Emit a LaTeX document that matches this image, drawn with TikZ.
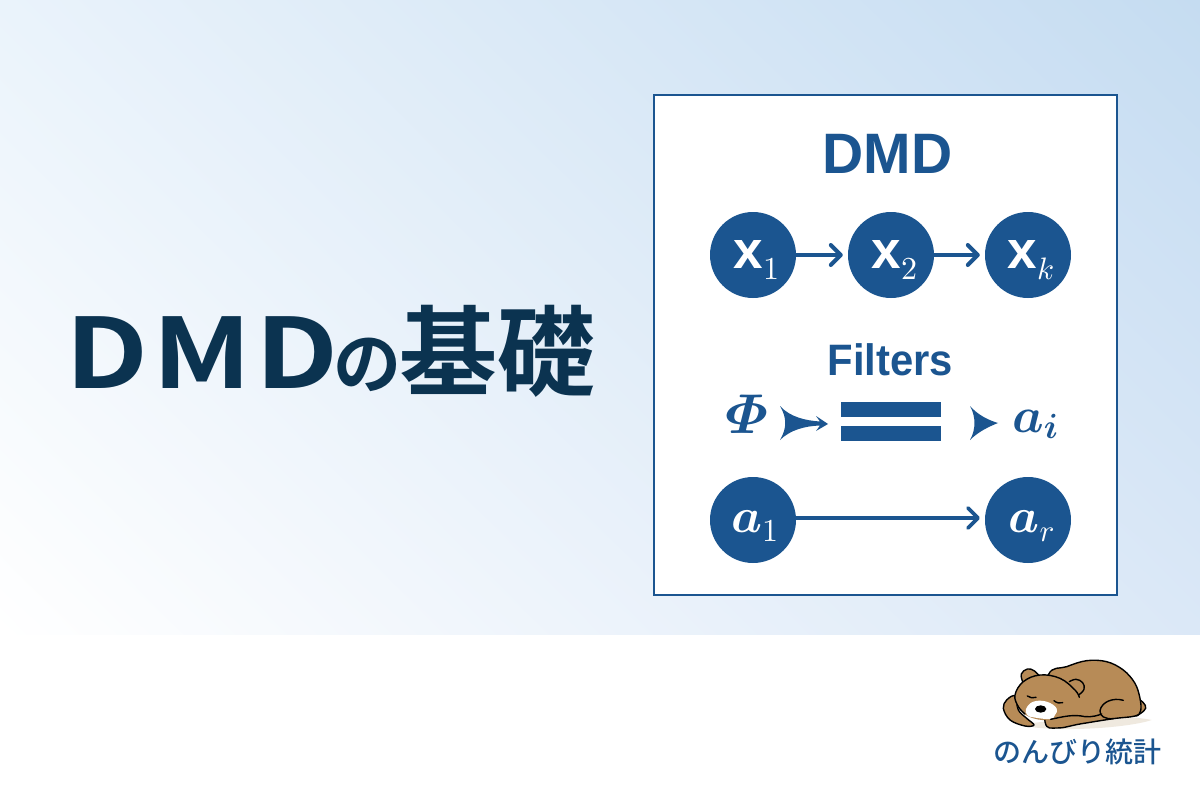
\documentclass[tikz,border=0pt]{standalone}
\usepackage[no-math]{fontspec}
\setmainfont{Liberation Sans}
\newfontfamily\jpbold{Noto Sans CJK JP Bold}
\newfontfamily\jpmed{Noto Sans CJK JP Medium}
\newfontfamily\latwide[FakeStretch=1.2]{Noto Sans CJK JP Bold}
\newfontfamily\lbold{Liberation Sans Bold}
\newfontfamily\lfilt[FakeStretch=0.95]{Liberation Sans Bold}
\usetikzlibrary{arrows.meta,shadings}
\font\mibig=cmmib10 at 56pt
\font\mia=cmmib10 at 50pt
\font\misub=cmmib10 at 35pt
\font\cmia=cmmib10 at 49pt
\font\cmisub=cmmi10 at 31pt
\font\crsub=cmr10 at 32pt
\definecolor{navy}{HTML}{1B5590}
\definecolor{titlecol}{HTML}{0B3350}
\definecolor{bearfill}{HTML}{B78B57}
\definecolor{bgll}{HTML}{FFFFFF}
\definecolor{bgul}{HTML}{EAF3FB}
\definecolor{bgur}{HTML}{C5DCF1}
\definecolor{bglr}{HTML}{DBE8F7}
\definecolor{shadowc}{HTML}{EFE9DF}
\tikzset{
  x=1pt,y=-1pt,
  circ/.style={circle,fill=navy,minimum size=86pt,inner sep=0pt,text=white},
  flow/.style={draw=navy,line width=4pt,shorten >=5pt,-{Straight Barb[length=10pt,width=20pt,line width=4pt,round]}},
  flowthin/.style={draw=navy,line width=3.6pt,shorten >=5pt,-{Straight Barb[length=10pt,width=20pt,line width=3.6pt,round]}},
  bearline/.style={draw=black,line width=1.4pt,line cap=round,line join=round},
  head/.style={text=navy,inner sep=0pt},
}
\newcommand{\vx}[2]{\hspace*{#1}\raisebox{-13pt}[0pt][0pt]{{\lbold\fontsize{53}{53}\selectfont x}\raisebox{-11pt}{#2}}}
\newcommand{\va}[2]{\hspace*{#1}\raisebox{-12pt}[0pt][0pt]{{\cmia a}\raisebox{-9pt}{#2}}}
\begin{document}
\begin{tikzpicture}
\useasboundingbox (0,0) rectangle (1200,800);
\fill[white] (0,0) rectangle (1200,800);
\shade[shading=bilinear interpolation,lower left=bgll,upper left=bgul,upper right=bgur,lower right=bglr] (0,0) rectangle (1200,634);
\node[inner sep=0pt,anchor=base west,text=titlecol] (title) at (65,388) {\latwide\fontsize{97}{97}\selectfont D\hspace{4pt}M\hspace{4pt}D\hspace{-5pt}\jpbold\fontsize{68}{68}\selectfont の\hspace{-2pt}\fontsize{98}{98}\selectfont 基礎};
\draw[navy,line width=2.6pt,fill=white] (654,95) rectangle (1117,595);
\node[head] (dmd) at (887.5,153.5) {\lbold\fontsize{57}{57}\selectfont DMD};
\node[circ] (x1) at (753,255) {\vx{7pt}{\crsub 1}};
\node[circ] (x2) at (891,255) {\vx{7pt}{\crsub 2}};
\node[circ] (xk) at (1028,255) {\vx{5pt}{\cmisub k}};
\draw[flow] (x1) -- (x2);
\draw[flow] (x2) -- (xk);
\node[head] (filters) at (890.5,360) {\lfilt\fontsize{44}{44}\selectfont Filters};
\node[head,anchor=base] (phi) at (746.5,433) {\mibig\char"08};
\node[head,anchor=base west] (ai) at (1012,432) {\mia a\raisebox{-6pt}{\misub i}};
\fill[navy] (841,402) rectangle (941,417);
\fill[navy] (841,426) rectangle (941,441);
% curved arrow shapes
\fill[navy] (780,406) .. controls (790,417) and (805,420.5) .. (820,421.5) -- (816,416) -- (828,424) -- (816,431) -- (820,425.5) .. controls (805,426) and (790,430) .. (780,440) .. controls (787,428) and (787,418) .. (780,406) -- cycle;
\fill[navy] (970,406) .. controls (978,415) and (988,420) .. (998,423) .. controls (988,427) and (978,432) .. (970,440) .. controls (976,429) and (976,417) .. (970,406) -- cycle;
\node[circ] (a1) at (753,520) {\va{3pt}{\crsub 1}};
\node[circ] (ar) at (1028,520) {\va{6pt}{\cmisub r}};
\draw[flowthin] ([yshift=2pt]a1.east) -- ([yshift=2pt]ar.west);
% bear
\begin{scope}[shift={(970,640)},x=0.3333pt,y=-0.3333pt]
\fill[shadowc] (180,250) .. controls (300,235) and (460,222) .. (545,240) .. controls (480,262) and (300,275) .. (190,262) -- cycle;
\filldraw[fill=bearfill,bearline] plot[smooth cycle,tension=.6] coordinates {(495,175)(520,188)(527,205)(512,220)(495,225)};
\filldraw[fill=bearfill,bearline] plot[smooth cycle,tension=.6] coordinates {(235,105)(290,80)(350,62)(410,65)(460,90)(495,130)(510,175)(512,212)(495,228)(430,236)(330,252)(262,264)(225,245)};
\filldraw[fill=bearfill,bearline] plot[smooth,tension=.7] coordinates {(158,125)(154,102)(172,87)(192,92)(208,108)};
\filldraw[fill=bearfill,bearline] plot[smooth,tension=.7] coordinates {(298,125)(318,118)(338,128)(342,148)(326,165)};
\filldraw[fill=bearfill,bearline] plot[smooth cycle,tension=.6] coordinates {(135,168)(110,180)(100,205)(120,240)(165,258)(192,255)(170,235)(145,210)};
\fill[bearfill] plot[smooth cycle,tension=.65] coordinates {(135,165)(160,125)(210,105)(270,115)(315,150)(328,190)(290,225)(245,240)(190,235)(150,210)};
\draw[bearline] plot[smooth,tension=.65] coordinates {(165,222)(145,200)(135,165)(160,125)(210,105)(270,115)(315,150)(328,172)};
\fill[white] plot[smooth cycle,tension=.7] coordinates {(168,207)(190,185)(230,185)(260,205)(255,225)(240,237)(190,232)(172,225)};
\fill[black] (212,207) ellipse (17 and 11);
\draw[bearline] (172,168) .. controls (180,174) and (190,175) .. (198,172);
\draw[bearline] (252,182) .. controls (260,189) and (270,191) .. (278,188);
\draw[bearline] (242,238) .. controls (280,230) and (310,222) .. (345,230) .. controls (365,232) and (385,226) .. (395,222);
\draw[bearline] (460,181) .. controls (430,172) and (395,185) .. (390,212) .. controls (388,228) and (405,238) .. (430,236);
\end{scope}
\node[inner sep=0pt,text=navy] (logo) at (1077,752) {\jpmed\fontsize{28}{28}\selectfont のんびり統計};
\end{tikzpicture}
\end{document}
